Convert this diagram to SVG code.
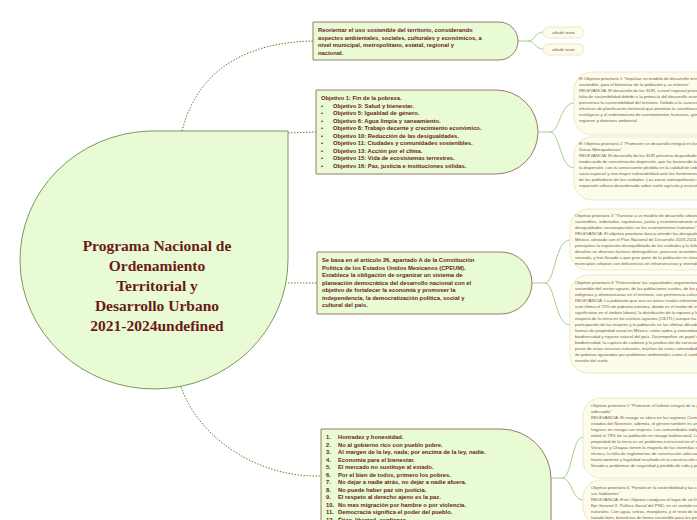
<svg xmlns="http://www.w3.org/2000/svg" width="697" height="520" viewBox="0 0 697 520">
<style>
.node{fill:#e8fbd5;stroke:#9b7a6a;stroke-width:1}
.t{font-family:"Liberation Sans",Arial,sans-serif;font-weight:bold;font-size:5.8px;fill:#6b1a1a}
.s{font-family:"Liberation Sans",Arial,sans-serif;font-size:4.3px;fill:#7a5a3a}
.sub{fill:#fbfcec;stroke:#efe7c6;stroke-width:1}
.dot{fill:none;stroke:#4f8a2a;stroke-width:1;stroke-dasharray:1.5 1.5}
.sol{fill:none;stroke:#a5cf85;stroke-width:1}
.ct{font-family:"Liberation Serif",serif;font-weight:bold;font-size:15.5px;fill:#6b1a1a;text-anchor:middle}
</style>
<g id="connectors">
<path class="dot" d="M182,131 C200,60 260,42 313,41"/>
<path class="dot" d="M288,133 L316,132"/>
<path class="dot" d="M288,283 L317,283"/>
<path class="dot" d="M181,387 C200,440 260,478 321,476"/>
<path class="sol" d="M518,41 H528 C535,41 535,32 543,32 M528,41 C535,41 535,49 543,49"/>
<path class="sol" d="M538,132 H550 C560,132 560,103 574,103 M550,132 C560,132 560,168 574,168"/>
<path class="sol" d="M532,283 H545 C555,283 555,240 570,240 M545,283 C555,283 555,325 570,325"/>
<path class="sol" d="M551,478 H562 C572,478 572,437 583,437 M562,478 C572,478 572,500 583,500"/>
</g>
<g id="central">
<path d="M150,131 H288 V260 A134,129 0 1 1 150,131 Z" fill="#e8fbd5" stroke="#7a9a5a" stroke-width="1"/>
<text class="ct" x="157" y="251">Programa Nacional de</text>
<text class="ct" x="157" y="271">Ordenamiento</text>
<text class="ct" x="157" y="291">Territorial y</text>
<text class="ct" x="157" y="311">Desarrollo Urbano</text>
<text class="ct" x="157" y="331">2021-2024undefined</text>
</g>
<g id="nodeA">
<path class="node" d="M313,22 H499 A19,19 0 0 1 499,60 H313 Z"/>
<text class="t"><tspan x="318" y="32">Reorientar el uso sostenible del territorio, considerando</tspan><tspan x="318" y="39.5">aspectos ambientales, sociales, culturales y económicos, a</tspan><tspan x="318" y="47">nivel municipal, metropolitano, estatal, regional y</tspan><tspan x="318" y="54.5">nacional.</tspan></text>
</g>
<g id="sub1"><rect class="sub" x="543" y="27" width="41" height="11" rx="5.5"/><text class="s" x="563.5" y="34" text-anchor="middle" fill="#b0a890">añadir texto</text></g>
<g id="sub2"><rect class="sub" x="543" y="44" width="41" height="11" rx="5.5"/><text class="s" x="563.5" y="51" text-anchor="middle">añadir texto</text></g>
<g id="nodeB">
<path class="node" d="M316,90 H496 A42,42 0 0 1 496,174 H316 Z"/>
<text class="t"><tspan x="321" y="100">Objetivo 1: Fin de la pobreza.</tspan>
<tspan x="321" y="107.5">•</tspan><tspan x="333" y="107.5">Objetivo 3: Salud y bienestar.</tspan>
<tspan x="321" y="115">•</tspan><tspan x="333" y="115">Objetivo 5: Igualdad de género.</tspan>
<tspan x="321" y="122.5">•</tspan><tspan x="333" y="122.5">Objetivo 6: Agua limpia y saneamiento.</tspan>
<tspan x="321" y="130">•</tspan><tspan x="333" y="130">Objetivo 8: Trabajo decente y crecimiento económico.</tspan>
<tspan x="321" y="137.5">•</tspan><tspan x="333" y="137.5">Objetivo 10: Reducción de las desigualdades.</tspan>
<tspan x="321" y="145">•</tspan><tspan x="333" y="145">Objetivo 11: Ciudades y comunidades sostenibles.</tspan>
<tspan x="321" y="152.5">•</tspan><tspan x="333" y="152.5">Objetivo 13: Acción por el clima.</tspan>
<tspan x="321" y="160">•</tspan><tspan x="333" y="160">Objetivo 15: Vida de ecosistemas terrestres.</tspan>
<tspan x="321" y="167.5">•</tspan><tspan x="333" y="167.5">Objetivo 16: Paz, justicia e instituciones sólidas.</tspan></text>
</g>
<g id="nodeC">
<path class="node" d="M317,252 H501 A31,31 0 0 1 501,314 H317 Z"/>
<text class="t"><tspan x="322" y="262">Se basa en el artículo 26, apartado A de la Constitución</tspan><tspan x="322" y="269.5">Política de los Estados Unidos Mexicanos (CPEUM).</tspan><tspan x="322" y="277">Establece la obligación de organizar un sistema de</tspan><tspan x="322" y="284.5">planeación democrática del desarrollo nacional con el</tspan><tspan x="322" y="292">objetivo de fortalecer la economía y promover la</tspan><tspan x="322" y="299.5">independencia, la democratización política, social y</tspan><tspan x="322" y="307">cultural del país.</tspan></text>
</g>
<g id="nodeD">
<path class="node" d="M321,429 H501 A50,50 0 0 1 551,479 V525 H321 Z"/>
<text class="t"><tspan x="326" y="439">1.</tspan><tspan x="338" y="439">Honradez y honestidad.</tspan>
<tspan x="326" y="446.5">2.</tspan><tspan x="338" y="446.5">No al gobierno rico con pueblo pobre.</tspan>
<tspan x="326" y="454">3.</tspan><tspan x="338" y="454">Al margen de la ley, nada; por encima de la ley, nadie.</tspan>
<tspan x="326" y="461.5">4.</tspan><tspan x="338" y="461.5">Economía para el bienestar.</tspan>
<tspan x="326" y="469">5.</tspan><tspan x="338" y="469">El mercado no sustituye al estado.</tspan>
<tspan x="326" y="476.5">6.</tspan><tspan x="338" y="476.5">Por el bien de todos, primero los pobres.</tspan>
<tspan x="326" y="484">7.</tspan><tspan x="338" y="484">No dejar a nadie atrás, no dejar a nadie afuera.</tspan>
<tspan x="326" y="491.5">8.</tspan><tspan x="338" y="491.5">No puede haber paz sin justicia.</tspan>
<tspan x="326" y="499">9.</tspan><tspan x="338" y="499">El respeto al derecho ajeno es la paz.</tspan>
<tspan x="326" y="506.5">10.</tspan><tspan x="338" y="506.5">No mas migración por hambre o por violencia.</tspan>
<tspan x="326" y="514">11.</tspan><tspan x="338" y="514">Democracia significa el poder del pueblo.</tspan>
<tspan x="326" y="521.5">12.</tspan><tspan x="338" y="521.5">Ética, libertad, confianza.</tspan></text>
</g>
<g id="r1"><path class="sub" d="M592,72 H700 V135 H592 A18,18 0 0 1 574,117 V90 A18,18 0 0 1 592,72 Z"/>
<text class="s"><tspan x="579" y="80">El Objetivo prioritario 1 "Impulsar un modelo de desarrollo territorial justo, equilibrado y</tspan><tspan x="579" y="86">sostenible, para el bienestar de la población y su entorno".</tspan><tspan x="579" y="92">RELEVANCIA: El desarrollo de los SUR, a nivel regional presentan desequilibrios por la</tspan><tspan x="579" y="98">falta de sostenibilidad debido a la primacía del desarrollo económico, sin tomar en</tspan><tspan x="579" y="104">prenuenza la sustentabilidad del territorio. Debido a la carencia de instrumentos</tspan><tspan x="579" y="110">efectivos de planificación territorial que permitan la coordinación de los procesos</tspan><tspan x="579" y="116">ecológicos y el ordenamiento de asentamientos humanos, generando conflictos entre</tspan><tspan x="579" y="122">regiones y deterioro ambiental.</tspan></text></g>
<g id="r2"><path class="sub" d="M592,137 H700 V200 H592 A18,18 0 0 1 574,182 V155 A18,18 0 0 1 592,137 Z"/>
<text class="s"><tspan x="579" y="145">El Objetivo prioritario 2 "Promover un desarrollo integral en los Sistemas Urbanos Rurales y en las</tspan><tspan x="579" y="151">Zonas Metropolitanas"</tspan><tspan x="579" y="157">RELEVANCIA: El desarrollo de los SUR presenta disparidades y se caracteriza por un patrón</tspan><tspan x="579" y="163">inadecuado de concentración dispersión, que ha favorecido la expansión urbana y</tspan><tspan x="579" y="169">la dispersión, con la consecuente pérdida en la calidad de vida, el incremento en la segregación</tspan><tspan x="579" y="175">socio espacial y una mayor vulnerabilidad ante los fenómenos naturales, de una gran parte</tspan><tspan x="579" y="181">de los pobladores de las ciudades. Las zonas metropolitanas en un ritmo similar, con una</tspan><tspan x="579" y="187">expansión urbana desordenada sobre suelo agrícola y ecosistemas.</tspan></text></g>
<g id="r3"><path class="sub" d="M588,209 H700 V270 H588 A18,18 0 0 1 570,252 V227 A18,18 0 0 1 588,209 Z"/>
<text class="s"><tspan x="575" y="217">Objetivo prioritario 3 "Transitar a un modelo de desarrollo urbano orientado a ciudades</tspan><tspan x="575" y="223">sostenibles, ordenadas, equitativas, justas y económicamente viables que reduzcan las</tspan><tspan x="575" y="229">desigualdades socioespaciales en los asentamientos humanos"</tspan><tspan x="575" y="235">RELEVANCIA: El objetivo prioritario busca atender las desigualdades urbanas en</tspan><tspan x="575" y="241">México, alineado con el Plan Nacional de Desarrollo 2019-2024. Se destacan como</tspan><tspan x="575" y="247">principales la expansión desequilibrada de las ciudades y la falta de planificación, con</tspan><tspan x="575" y="253">desafíos en diversos factores demográficos, procesos económicos y el acceso a la</tspan><tspan x="575" y="259">vivienda, y han llevado a que gran parte de la población en situación de pobreza en los</tspan><tspan x="575" y="265">municipios urbanos con deficiencias en infraestructura y vivienda.</tspan></text></g>
<g id="r4"><path class="sub" d="M588,275 H700 V373 H588 A18,18 0 0 1 570,355 V293 A18,18 0 0 1 588,275 Z"/>
<text class="s"><tspan x="575" y="284">Objetivo prioritario 4 "Potencializar las capacidades organizativas, productivas y de desarrollo</tspan><tspan x="575" y="290">sostenible del sector agrario, de las poblaciones rurales, de los pueblos y comunidades</tspan><tspan x="575" y="296">indígenas y afromexicanas en el territorio, con pertinencia cultural"</tspan><tspan x="575" y="302">RELEVANCIA: La población que vive en áreas rurales enfrentan marginación,</tspan><tspan x="575" y="308">está última el 75% de pobreza extrema, donde es el medio de ingresos es</tspan><tspan x="575" y="314">significativo en el ámbito laboral, la distribución de la riqueza y la propiedad, la</tspan><tspan x="575" y="320">mayoría de la tierra en los núcleos agrarios (CEJTL) aunque ha tenido poca</tspan><tspan x="575" y="326">participación de las mujeres y la población en las últimas décadas. Las diversas</tspan><tspan x="575" y="332">formas de propiedad social en México, como ejidos y comunidades, albergan gran</tspan><tspan x="575" y="338">biodiversidad y riqueza natural del país. Desempeñan un papel crucial en la conservación de la</tspan><tspan x="575" y="344">biodiversidad, la captura de carbono y la producción de servicios hídricos. Sin embargo, a</tspan><tspan x="575" y="350">pesar de estos recursos naturales, muchas de estas comunidades enfrentan problemas</tspan><tspan x="575" y="356">de pobreza agravados por problemas ambientales como el cambio climático y la</tspan><tspan x="575" y="362">erosión del suelo.</tspan></text></g>
<g id="r5"><path class="sub" d="M601,398 H700 V478 H601 A18,18 0 0 1 583,460 V416 A18,18 0 0 1 601,398 Z"/>
<text class="s"><tspan x="591" y="407">Objetivo prioritario 5 "Promover el hábitat integral de la población en la política de vivienda</tspan><tspan x="591" y="413">adecuada"</tspan><tspan x="591" y="419">RELEVANCIA: El rezago se ubica en las regiones Centro, Sur-Sureste y en algunos</tspan><tspan x="591" y="425">estados del Noroeste, además, el género también es un factor significativo con más</tspan><tspan x="591" y="431">hogares en rezago con mujeres. Las comunidades indígenas presentan un alto rezago,</tspan><tspan x="591" y="437">mátal el 79% de su población en rezago habitacional. La falta de certeza jurídica en la</tspan><tspan x="591" y="443">propiedad de la tierra es un problema estructural en el sector de vivienda, Guerrero,</tspan><tspan x="591" y="449">Veracruz y Chiapas tienen la mayoría de las viviendas sin escrituras. La falta de asistencia</tspan><tspan x="591" y="455">técnica, la falta de reglamentos de construcción adecuados y la falta de acceso a</tspan><tspan x="591" y="461">financiamiento y legalidad resultado en la construcción deficiente de viviendas. Esto</tspan><tspan x="591" y="467">llevado a problemas de seguridad y pérdida de vida y propiedad.</tspan></text></g>
<g id="r6"><path class="sub" d="M601,480 H700 V525 H601 A18,18 0 0 1 583,507 V498 A18,18 0 0 1 601,480 Z"/>
<text class="s"><tspan x="591" y="489">Objetivo prioritario 6 "Fortalecer la sostenibilidad y las capacidades adaptativas en el territorio y</tspan><tspan x="591" y="495">sus habitantes"</tspan><tspan x="591" y="501">RELEVANCIA: Este Objetivo coadyuva al logro de un Desarrollo sostenible en México, con el</tspan><tspan x="591" y="507">Eje General II. Política Social del PND, en un sentido estrupular los recursos</tspan><tspan x="591" y="513">naturales. Con agua, selvas, manglares, y el resto de los ecosistemas, se han</tspan><tspan x="591" y="519">tratado bien, beneficios de forma sostenible para las personas y comunidades.</tspan></text></g>
</svg>
